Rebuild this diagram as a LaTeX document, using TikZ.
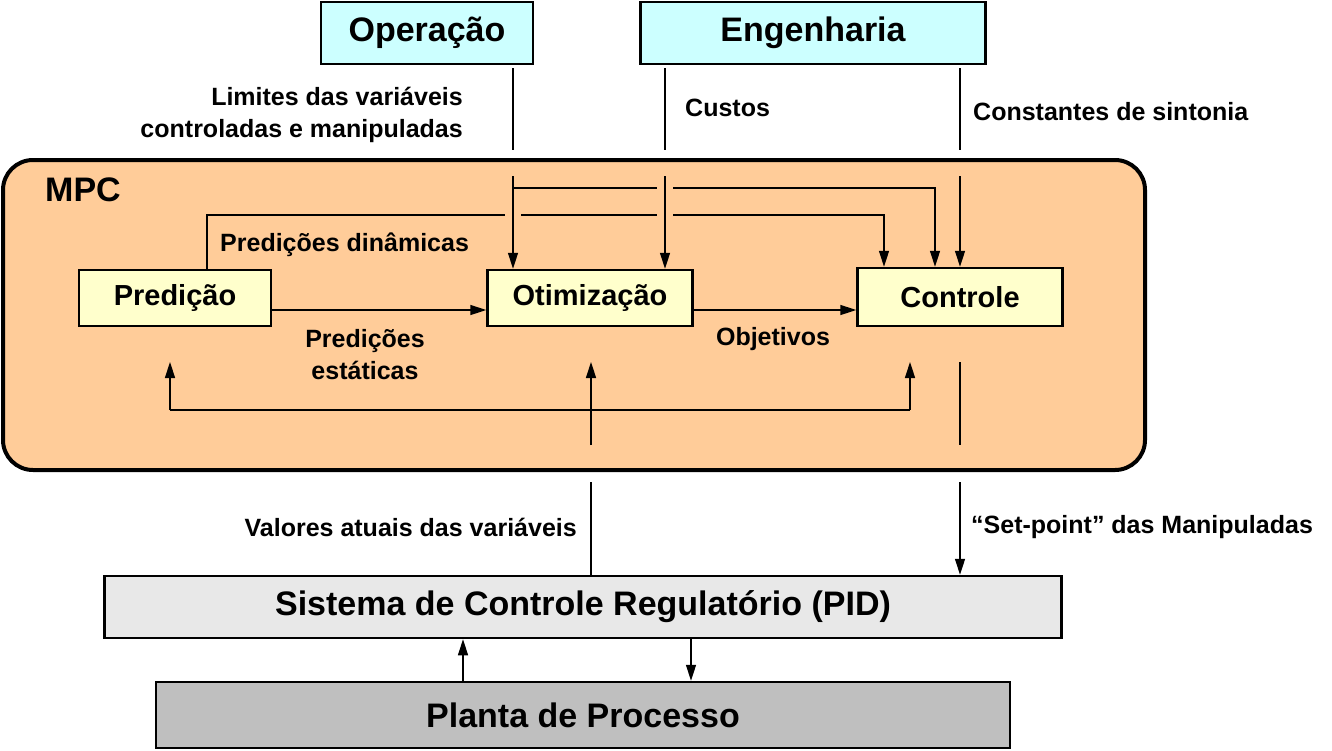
\documentclass[tikz,border=0pt]{standalone}
\usepackage{fontspec}
\setmainfont{Liberation Sans}
\usetikzlibrary{arrows.meta}
\definecolor{cy}{RGB}{204,255,255}
\definecolor{ye}{RGB}{255,255,204}
\definecolor{orf}{RGB}{255,204,153}
\begin{document}
\begin{tikzpicture}[x=1pt,y=-1pt,
 box/.style={draw,line width=2.5pt,inner sep=0pt,font=\bfseries},
 big/.style={font=\bfseries\fontsize{34}{40}\selectfont},
 mid/.style={font=\bfseries\fontsize{29}{34}\selectfont},
 lab/.style={font=\bfseries\fontsize{25}{30}\selectfont,inner sep=0pt},
 ln/.style={line width=1.5pt},
 ar/.style={ln,-{Triangle[length=16pt,width=10pt]}}]
\useasboundingbox (0,0) rectangle (1332,750);
% top boxes
\node[box,big,fill=cy,minimum width=212pt,minimum height=62pt] (op) at (427,33) {Operação};
\node[box,big,fill=cy,minimum width=345pt,minimum height=62pt] (en) at (813,33) {Engenharia};
% MPC
\node[draw,line width=4pt,fill=orf,rounded corners=30pt,minimum width=1142pt,minimum height=310pt,inner sep=0pt] (mpc) at (574,315) {};
\node[big,anchor=west,inner sep=0pt] (mpct) at (45,190) {MPC};
\node[box,mid,fill=ye,minimum width=192pt,minimum height=56pt] (pr) at (175,298) {Predição};
\node[box,mid,fill=ye,minimum width=205pt,minimum height=56pt] (ot) at (590,298) {Otimização};
\node[box,mid,fill=ye,minimum width=205pt,minimum height=58pt] (co) at (960,297) {Controle};
% bottom boxes
\node[box,big,fill=black!9,minimum width=957pt,minimum height=62pt] (si) at (583,607) {Sistema de Controle Regulatório (PID)};
\node[box,big,fill=black!25,minimum width=854pt,minimum height=66pt] (pl) at (583,715) {Planta de Processo};
% coordinates
\coordinate (a1) at (513,68); \coordinate (a2) at (513,150); \coordinate (a3) at (513,176);
\coordinate (b1) at (665,68); \coordinate (b2) at (665,150); \coordinate (b3) at (665,176);
\coordinate (c1) at (960,68); \coordinate (c2) at (960,150); \coordinate (c3) at (960,176);
\draw[ln] (a1)--(a2); \draw[ln] (b1)--(b2); \draw[ln] (c1)--(c2);
\draw[ar] (a3)--(ot.north -| a3);
\draw[ar] (b3)--(ot.north -| b3);
\draw[ar] (c3)--(co.north -| c3);
% upper horizontal
\draw[ln] (513,188)--(657,188);
\draw[ar] (673,188)--(935,188)--(co.north -| 935,0);
% lower horizontal
\draw[ln] (pr.north -| 207,0)--(207,215)--(505,215);
\draw[ln] (521,215)--(657,215);
\draw[ar] (673,215)--(884,215)--(co.north -| 884,0);
% main flow
\draw[ar] (pr.east |- 0,310)--(ot.west |- 0,310);
\draw[ar] (ot.east |- 0,310)--(co.west |- 0,310);
% feedback
\draw[ar] (170,410)--(170,362);
\draw[ar] (910,410)--(910,362);
\draw[ln] (170,410)--(910,410);
\draw[ar] (591,445)--(591,362);
\draw[ln] (591,482)--(si.north -| 591,0);
\draw[ln] (960,362)--(960,445);
\draw[ar] (960,482)--(si.north -| 960,0);
\draw[ar] (pl.north -| 463,0)--(si.south -| 463,0);
\draw[ar] (si.south -| 691,0)--(pl.north -| 691,0);
% labels
\node[lab,anchor=east,align=right] (l1) at (463,115) {Limites das variáveis\\[2pt]controladas e manipuladas};
\node[lab,anchor=west] (l2) at (685,108) {Custos};
\node[lab,anchor=west] (l3) at (973,112) {Constantes de sintonia};
\node[lab,anchor=west] (l4) at (220,245) {Predições dinâmicas};
\node[lab,align=center] (l5) at (365,355) {Predições\\[2pt]estáticas};
\node[lab] (l6) at (773,339) {Objetivos};
\node[lab,anchor=east] (l7) at (577,527) {Valores atuais das variáveis};
\node[lab,anchor=west] (l8) at (971,527) {“Set-point” das Manipuladas};
\end{tikzpicture}
\end{document}
